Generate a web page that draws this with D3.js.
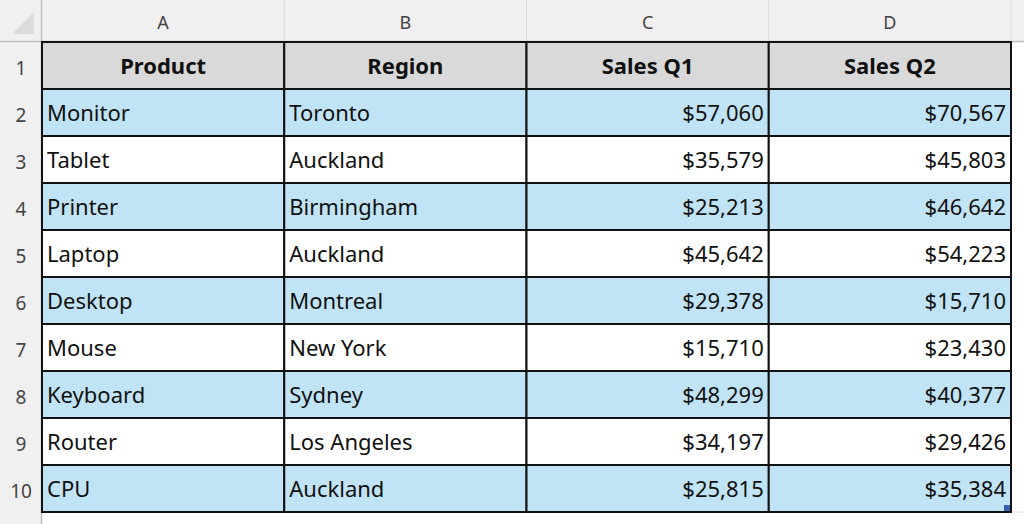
<!DOCTYPE html>
<html><head><meta charset="utf-8">
<script src="https://cdn.jsdelivr.net/npm/d3@7"></script>
<style>body{margin:0;background:#fff}</style>
</head><body>
<svg id="sheet" width="1024" height="524"></svg>
<script>
var columnLetters = ["A", "B", "C", "D"]
var headers = ["Product", "Region", "Sales Q1", "Sales Q2"]
var products = ["Monitor", "Tablet", "Printer", "Laptop", "Desktop", "Mouse", "Keyboard", "Router", "CPU"]
var regions = ["Toronto", "Auckland", "Birmingham", "Auckland", "Montreal", "New York", "Sydney", "Los Angeles", "Auckland"]
var salesQ1 = [57060, 35579, 25213, 45642, 29378, 15710, 48299, 34197, 25815]
var salesQ2 = [70567, 45803, 46642, 54223, 15710, 23430, 40377, 29426, 35384]

var svg = d3.select("#sheet")
var leftX = 42, topY = 42, colW = 242.25, rowH = 47
var nRows = products.length + 1
var x = d3.scaleBand().domain(columnLetters).range([leftX, leftX + colW * 4])
var y = d3.scaleBand().domain(d3.range(1, nRows + 2)).range([topY, topY + rowH * (nRows + 1)])
var money = function(v){return "$" + d3.format(",")(v)}
var font = "'Noto Sans', sans-serif"

// grey chrome
svg.append("rect").attr("width", 1024).attr("height", topY).attr("fill", "#f0f0f0")
svg.append("rect").attr("width", leftX).attr("height", 524).attr("fill", "#f0f0f0")
svg.append("path").attr("d", "M34,12 L34,34 L12,34 Z").attr("fill", "#dcdcdc")
svg.append("line").attr("x1", 0).attr("x2", 1024).attr("y1", topY - 0.5).attr("y2", topY - 0.5).attr("stroke", "#bdbdbd").attr("stroke-width", 1.5)
svg.append("line").attr("x1", leftX - 0.5).attr("x2", leftX - 0.5).attr("y1", 0).attr("y2", 524).attr("stroke", "#bdbdbd").attr("stroke-width", 1.5)

columnLetters.forEach(function(c){
    svg.append("text").attr("x", x(c) + colW / 2).attr("y", 29).attr("text-anchor", "middle")
        .attr("font-family", font).attr("font-size", 18).attr("fill", "#444").text(c)
    svg.append("line").attr("x1", x(c) + colW).attr("x2", x(c) + colW).attr("y1", 0).attr("y2", topY)
        .attr("stroke", "#dadada")
})
d3.range(1, nRows + 1).forEach(function(r){
    svg.append("text").attr("x", 21).attr("y", y(r) + 33).attr("text-anchor", "middle")
        .attr("font-family", font).attr("font-size", 19).attr("fill", "#444").text(r)
})
svg.append("line").attr("x1", 1012).attr("x2", 1024).attr("y1", y(nRows) + rowH).attr("y2", y(nRows) + rowH).attr("stroke", "#e0e0e0")

// cells
var rows = [headers].concat(products.map(function(p, i){return [p, regions[i], money(salesQ1[i]), money(salesQ2[i])]}))
rows.forEach(function(row, i){
    var r = i + 1
    var fill = i === 0 ? "#d9d9d9" : (i % 2 === 1 ? "#c0e4f5" : "#ffffff")
    columnLetters.forEach(function(c, j){
        svg.append("rect").attr("x", x(c)).attr("y", y(r)).attr("width", colW).attr("height", rowH)
            .attr("fill", fill).attr("stroke", "#111").attr("stroke-width", 2)
        var t = svg.append("text").attr("y", y(r) + 32).attr("font-family", font).attr("fill", "#111")
            .attr("font-size", 22).text(row[j])
        if(i === 0) t.attr("x", x(c) + colW / 2).attr("text-anchor", "middle").attr("font-weight", "bold")
        else if(j >= 2) t.attr("x", x(c) + colW - 5).attr("text-anchor", "end")
        else t.attr("x", x(c) + 5)
    })
})
svg.append("rect").attr("x", x("D") + colW - 7).attr("y", y(nRows) + rowH - 7).attr("width", 6).attr("height", 6).attr("fill", "#3a5db0")
</script>
</body></html>
